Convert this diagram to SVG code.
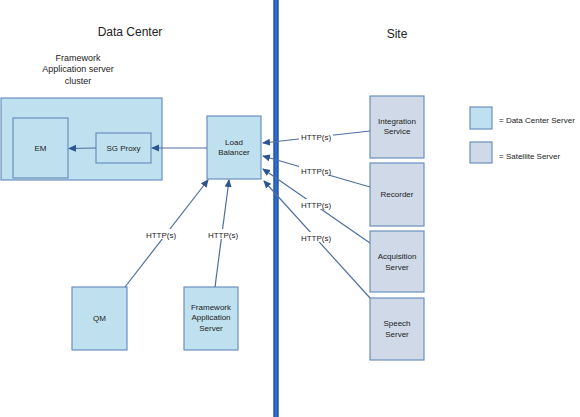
<svg xmlns="http://www.w3.org/2000/svg" width="580" height="417" viewBox="0 0 580 417">
<style>
text{font-family:"Liberation Sans",Arial,sans-serif;fill:#222;}
.t{font-size:8px;text-anchor:middle;}
.dc{fill:#bfe0ee;stroke:#6b8fbf;stroke-width:1.2;}
.sat{fill:#cfd9e8;stroke:#6b8fbf;stroke-width:1.2;}
.c{stroke:#4e6f9e;stroke-width:1.2;fill:none;marker-end:url(#ah);}
</style>
<defs>
<marker id="ah" markerWidth="8" markerHeight="8" refX="7" refY="4" orient="auto" markerUnits="userSpaceOnUse">
<path d="M0,0.5 L8,4 L0,7.5 Z" fill="#2e5590"/>
</marker>
</defs>
<rect width="580" height="417" fill="#fff"/>
<text x="130" y="36" font-size="12" text-anchor="middle">Data Center</text>
<text x="397" y="38" font-size="12" text-anchor="middle">Site</text>
<g id="cluster">
<text x="78" y="61" font-size="9" text-anchor="middle">Framework</text>
<text x="78" y="72" font-size="9" text-anchor="middle">Application server</text>
<text x="78" y="84" font-size="9" text-anchor="middle">cluster</text>
<rect class="dc" x="1" y="98" width="161" height="82"/>
</g>
<g id="em"><rect class="dc" x="13" y="118" width="55" height="60"/><text class="t" x="40.5" y="151">EM</text></g>
<g id="sgproxy"><rect class="dc" x="96" y="133" width="55" height="30"/><text class="t" x="123.5" y="151">SG Proxy</text></g>
<g id="lb"><rect class="dc" x="207" y="116" width="54" height="63"/><text class="t" x="234" y="145">Load</text><text class="t" x="234" y="155">Balancer</text></g>
<g id="qm"><rect class="dc" x="72" y="287" width="55" height="63"/><text class="t" x="99.5" y="321">QM</text></g>
<g id="fas"><rect class="dc" x="184" y="287" width="54" height="63"/><text class="t" x="211" y="310">Framework</text><text class="t" x="211" y="320">Application</text><text class="t" x="211" y="331">Server</text></g>
<g id="integration"><rect class="sat" x="370" y="96" width="54" height="62"/><text class="t" x="397" y="124">Integration</text><text class="t" x="397" y="134">Service</text></g>
<g id="recorder"><rect class="sat" x="370" y="163" width="54" height="63"/><text class="t" x="397" y="197">Recorder</text></g>
<g id="acquisition"><rect class="sat" x="370" y="231" width="54" height="61"/><text class="t" x="397" y="259">Acquisition</text><text class="t" x="397" y="270">Server</text></g>
<g id="speech"><rect class="sat" x="370" y="298" width="54" height="62"/><text class="t" x="397" y="326">Speech</text><text class="t" x="397" y="337">Server</text></g>
<g id="divider"><rect x="273.5" y="0" width="5" height="417" fill="#2f6cc8"/><rect x="273.5" y="0" width="1" height="417" fill="#1f4f9e"/><rect x="277.5" y="0" width="1" height="417" fill="#1f4f9e"/></g>
<g id="legend">
<rect class="dc" x="470" y="107" width="22" height="22"/><text x="499" y="123" font-size="8">= Data Center Server</text>
<rect class="sat" x="470" y="142" width="22" height="21"/><text x="499" y="159" font-size="8">= Satellite Server</text>
</g>
<g id="connectors">
<line class="c" x1="96" y1="148" x2="69" y2="148.5"/>
<line class="c" x1="207" y1="148" x2="152" y2="148"/>
<line class="c" x1="370" y1="131" x2="263" y2="143"/>
<line class="c" x1="370" y1="187" x2="263" y2="156"/>
<line class="c" x1="370" y1="243" x2="263" y2="169"/>
<line class="c" x1="370" y1="298" x2="264" y2="181"/>
<line class="c" x1="125" y1="287" x2="208" y2="180"/>
<line class="c" x1="215" y1="287" x2="229" y2="180"/>
</g>
<g id="labels" font-size="8">
<rect x="299" y="131" width="34" height="10" fill="#fff"/><text class="t" x="316" y="140">HTTP(s)</text>
<rect x="299" y="165" width="34" height="10" fill="#fff"/><text class="t" x="316" y="174">HTTP(s)</text>
<rect x="299" y="199" width="34" height="10" fill="#fff"/><text class="t" x="316" y="208">HTTP(s)</text>
<rect x="299" y="232" width="34" height="10" fill="#fff"/><text class="t" x="316" y="241">HTTP(s)</text>
<rect x="144" y="229" width="34" height="10" fill="#fff"/><text class="t" x="161" y="238">HTTP(s)</text>
<rect x="206" y="229" width="34" height="10" fill="#fff"/><text class="t" x="223" y="238">HTTP(s)</text>
</g>
</svg>
